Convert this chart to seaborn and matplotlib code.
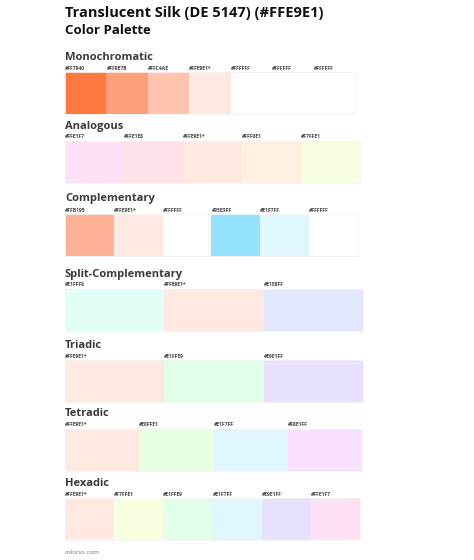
import matplotlib
matplotlib.use("Agg")
import matplotlib.pyplot as plt
import seaborn as sns

sns.set_style("white")
plt.rcParams['font.family'] = ['Open Sans', 'DejaVu Sans']

# palette data
section_names = ["Monochromatic", "Analogous", "Complementary", "Split-Complementary",
                 "Triadic", "Tetradic", "Hexadic"]
mono = ["#FF7940", "#FF9E7B", "#FFC4AE", "#FFE9E1", "#FFFFFF", "#FFFFFF", "#FFFFFF"]
mono_labels = ["#FF7940", "#FF9E7B", "#FFC4AE", "#FFE9E1*", "#FFFFFF", "#FFFFFF", "#FFFFFF"]
analog = ["#FFE1F7", "#FFE1E8", "#FFE9E1", "#FFF0E1", "#F7FFE1"]
analog_labels = ["#FFE1F7", "#FFE1E8", "#FFE9E1*", "#FFF0E1", "#F7FFE1"]
compl = ["#FFB195", "#FFE9E1", "#FFFFFF", "#95E3FF", "#E1F7FF", "#FFFFFF"]
compl_labels = ["#FFB195", "#FFE9E1*", "#FFFFFF", "#95E3FF", "#E1F7FF", "#FFFFFF"]
split = ["#E1FFF8", "#FFE9E1", "#E1E8FF"]
split_labels = ["#E1FFF8", "#FFE9E1*", "#E1E8FF"]
triad = ["#FFE9E1", "#E1FFE9", "#E9E1FF"]
triad_labels = ["#FFE9E1*", "#E1FFE9", "#E9E1FF"]
tetra = ["#FFE9E1", "#E8FFE1", "#E1F7FF", "#F8E1FF"]
tetra_labels = ["#FFE9E1*", "#E8FFE1", "#E1F7FF", "#F8E1FF"]
hexa = ["#FFE9E1", "#F7FFE1", "#E1FFE9", "#E1F7FF", "#E9E1FF", "#FFE1F7"]
hexa_labels = ["#FFE9E1*", "#F7FFE1", "#E1FFE9", "#E1F7FF", "#E9E1FF", "#FFE1F7"]

palettes = [mono, analog, compl, split, triad, tetra, hexa]
labels = [mono_labels, analog_labels, compl_labels, split_labels, triad_labels, tetra_labels, hexa_labels]

# layout (pixel units): header y, right edge
tops = [57, 126, 199, 274, 345, 414, 483]
right = [355, 360, 358, 363, 363, 362, 360]

fig = plt.figure(figsize=(4.74, 5.6), dpi=100)
ax = fig.add_axes([0, 0, 1, 1])
ax.set_xlim(0, 474)
ax.set_ylim(560, 0)
ax.axis("off")

ax.text(65, 13, "Translucent Silk (DE 5147) (#FFE9E1)", fontsize=10.5, fontweight="bold",
        color="#111111", va="center")
ax.text(65, 31, "Color Palette", fontsize=9.5, fontweight="bold", color="#111111", va="center")

for name, cols, labs, y, r in zip(section_names, palettes, labels, tops, right):
    ax.text(65, y, name, fontsize=8, fontweight="bold", color="#3a3a3a", va="center")
    n = len(cols)
    w = (r - 65) / n
    xs = [65 + i * w for i in range(n)]
    ax.bar(xs, 42, width=w, bottom=y + 15, align="edge", color=cols,
           edgecolor="none")
    ax.plot([65, r, r, 65, 65], [y + 15, y + 15, y + 57, y + 57, y + 15],
            color="#f4f4f4", lw=0.6)
    for x, lab in zip(xs, labs):
        ax.text(x, y + 11, lab, fontsize=3.6, fontweight="bold", color="#444444", va="center")

ax.text(65, 552, "colorxs.com", fontsize=4.5, color="#777777", va="center")

fig.savefig("out.png", dpi=100)
